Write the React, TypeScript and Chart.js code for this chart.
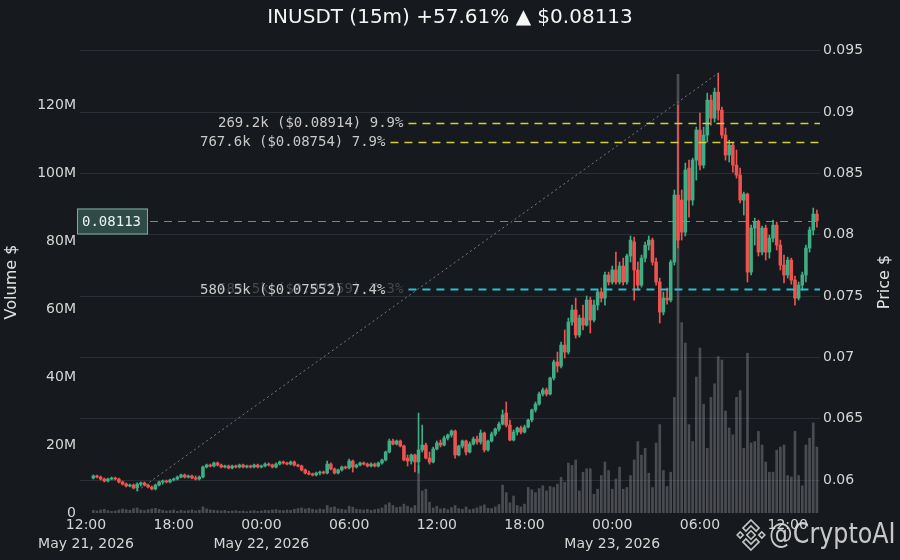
import React, { useEffect, useRef } from 'react';
import { Chart, registerables } from 'chart.js';

Chart.register(...registerables);

// ---- data (15m candles, slot 0 = May 21 2026 12:00) ----
const firstSlot = 2;
const opens = [
  0.06016,0.06033,0.06024,0.06008,0.05992,0.06008,0.06016,0.06008,0.05984,0.05967,
  0.05951,0.05959,0.05935,0.05967,0.05976,0.05959,0.05943,0.05927,0.05959,0.05984,
  0.05992,0.05984,0.06000,0.06008,0.06024,0.06041,0.06024,0.06033,0.06016,0.06008,
  0.06024,0.06106,0.06122,0.06114,0.06139,0.06122,0.06106,0.06114,0.06098,0.06114,
  0.06106,0.06122,0.06106,0.06114,0.06106,0.06122,0.06106,0.06114,0.06130,0.06122,
  0.06106,0.06130,0.06147,0.06139,0.06130,0.06147,0.06122,0.06114,0.06082,0.06057,
  0.06049,0.06041,0.06057,0.06065,0.06057,0.06130,0.06090,0.06057,0.06082,0.06106,
  0.06098,0.06155,0.06106,0.06122,0.06139,0.06130,0.06114,0.06130,0.06114,0.06139,
  0.06163,0.06228,0.06318,0.06293,0.06318,0.06277,0.06179,0.06155,0.06204,0.06147,
  0.06245,0.06285,0.06179,0.06147,0.06253,0.06302,0.06285,0.06342,0.06367,0.06399,
  0.06204,0.06277,0.06318,0.06228,0.06293,0.06334,0.06310,0.06383,0.06245,0.06318,
  0.06375,0.06416,0.06456,0.06546,0.06448,0.06326,0.06391,0.06424,0.06391,0.06432,
  0.06489,0.06571,0.06619,0.06701,0.06734,0.06701,0.06831,0.06962,0.06929,0.07100,
  0.07043,0.07288,0.07386,0.07182,0.07320,0.07263,0.07467,0.07304,0.07426,0.07532,
  0.07483,0.07671,0.07614,0.07712,0.07614,0.07744,0.07614,0.07826,0.07940,0.07712,
  0.07589,0.07809,0.07915,0.07956,0.07777,0.07614,0.07369,0.07483,0.07467,0.07777,
  0.08323,0.08282,0.08021,0.08543,0.08282,0.08608,0.08853,0.08567,0.08812,0.09097,
  0.08950,0.09162,0.09016,0.08812,0.08649,0.08730,0.08567,0.08486,0.08282,0.08331,
  0.07695,0.08054,0.08103,0.07858,0.08054,0.07858,0.07972,0.08078,0.07915,0.07752,
  0.07671,0.07793,0.07630,0.07483,0.07589,0.07671,0.07891,0.08038,0.08168,
];
const highs = [
  0.06041,0.06041,0.06033,0.06016,0.06016,0.06024,0.06024,0.06016,0.05992,0.05976,
  0.05967,0.05967,0.05976,0.05984,0.05984,0.05967,0.05951,0.05967,0.05992,0.06000,
  0.06000,0.06008,0.06016,0.06033,0.06049,0.06049,0.06041,0.06041,0.06033,0.06033,
  0.06114,0.06130,0.06130,0.06147,0.06147,0.06130,0.06122,0.06122,0.06122,0.06122,
  0.06130,0.06130,0.06122,0.06122,0.06130,0.06130,0.06122,0.06139,0.06139,0.06130,
  0.06139,0.06155,0.06155,0.06147,0.06155,0.06155,0.06130,0.06122,0.06090,0.06073,
  0.06057,0.06065,0.06073,0.06073,0.06155,0.06139,0.06098,0.06090,0.06114,0.06114,
  0.06171,0.06163,0.06130,0.06147,0.06147,0.06139,0.06139,0.06139,0.06147,0.06171,
  0.06236,0.06334,0.06334,0.06326,0.06326,0.06285,0.06204,0.06212,0.06212,0.06546,
  0.06448,0.06302,0.06228,0.06269,0.06318,0.06326,0.06359,0.06375,0.06408,0.06408,
  0.06285,0.06326,0.06326,0.06310,0.06350,0.06359,0.06408,0.06391,0.06326,0.06391,
  0.06424,0.06473,0.06571,0.06636,0.06489,0.06408,0.06432,0.06440,0.06448,0.06497,
  0.06579,0.06636,0.06717,0.06750,0.06750,0.06839,0.06978,0.07043,0.07125,0.07223,
  0.07320,0.07426,0.07483,0.07345,0.07426,0.07500,0.07491,0.07467,0.07549,0.07565,
  0.07695,0.07695,0.07744,0.07858,0.07777,0.07809,0.07842,0.07989,0.07980,0.07777,
  0.07834,0.07940,0.07989,0.07972,0.07809,0.07646,0.07532,0.07565,0.07793,0.08364,
  0.09056,0.08364,0.08584,0.08608,0.08624,0.08877,0.08991,0.08877,0.09154,0.09138,
  0.09195,0.09317,0.09040,0.08869,0.08771,0.08755,0.08690,0.08543,0.08347,0.08339,
  0.08078,0.08135,0.08119,0.08070,0.08078,0.07997,0.08119,0.08103,0.07956,0.07834,
  0.07817,0.07809,0.07663,0.07614,0.07695,0.07915,0.08062,0.08217,0.08201,
];
const lows = [
  0.06008,0.06016,0.06000,0.05984,0.05984,0.06000,0.06000,0.05976,0.05959,0.05943,
  0.05943,0.05927,0.05910,0.05951,0.05951,0.05935,0.05919,0.05919,0.05951,0.05967,
  0.05976,0.05976,0.05992,0.06000,0.06016,0.06016,0.06016,0.06008,0.06000,0.06000,
  0.06016,0.06098,0.06106,0.06106,0.06114,0.06098,0.06098,0.06090,0.06090,0.06098,
  0.06098,0.06098,0.06098,0.06098,0.06098,0.06098,0.06098,0.06106,0.06114,0.06098,
  0.06098,0.06122,0.06130,0.06122,0.06122,0.06114,0.06106,0.06073,0.06049,0.06041,
  0.06033,0.06033,0.06041,0.06049,0.06049,0.06082,0.06049,0.06049,0.06073,0.06090,
  0.06090,0.06065,0.06098,0.06114,0.06122,0.06106,0.06106,0.06106,0.06106,0.06130,
  0.06155,0.06220,0.06285,0.06285,0.06269,0.06155,0.06114,0.06130,0.06065,0.06057,
  0.06228,0.06171,0.06130,0.06139,0.06245,0.06269,0.06277,0.06326,0.06350,0.06179,
  0.06196,0.06261,0.06204,0.06220,0.06285,0.06293,0.06293,0.06228,0.06236,0.06310,
  0.06359,0.06399,0.06448,0.06432,0.06318,0.06318,0.06367,0.06375,0.06383,0.06424,
  0.06473,0.06554,0.06611,0.06685,0.06685,0.06693,0.06815,0.06880,0.06913,0.06994,
  0.07027,0.07263,0.07157,0.07165,0.07223,0.07255,0.07198,0.07288,0.07386,0.07451,
  0.07426,0.07589,0.07597,0.07597,0.07597,0.07589,0.07597,0.07777,0.07467,0.07549,
  0.07573,0.07777,0.07875,0.07752,0.07589,0.07280,0.07345,0.07434,0.07451,0.07752,
  0.07891,0.07956,0.07989,0.08143,0.08241,0.08445,0.08527,0.08543,0.08755,0.08893,
  0.08918,0.08934,0.08787,0.08608,0.08592,0.08510,0.08461,0.08258,0.08160,0.07614,
  0.07671,0.07915,0.07826,0.07834,0.07793,0.07809,0.07940,0.07875,0.07712,0.07606,
  0.07646,0.07597,0.07426,0.07467,0.07549,0.07614,0.07858,0.07997,0.08062,
];
const closes = [
  0.06033,0.06024,0.06008,0.05992,0.06008,0.06016,0.06008,0.05984,0.05967,0.05951,
  0.05959,0.05935,0.05967,0.05976,0.05959,0.05943,0.05927,0.05959,0.05984,0.05992,
  0.05984,0.06000,0.06008,0.06024,0.06041,0.06024,0.06033,0.06016,0.06008,0.06024,
  0.06106,0.06122,0.06114,0.06139,0.06122,0.06106,0.06114,0.06098,0.06114,0.06106,
  0.06122,0.06106,0.06114,0.06106,0.06122,0.06106,0.06114,0.06130,0.06122,0.06106,
  0.06130,0.06147,0.06139,0.06130,0.06147,0.06122,0.06114,0.06082,0.06057,0.06049,
  0.06041,0.06057,0.06065,0.06057,0.06130,0.06090,0.06057,0.06082,0.06106,0.06098,
  0.06155,0.06106,0.06122,0.06139,0.06130,0.06114,0.06130,0.06114,0.06139,0.06163,
  0.06228,0.06318,0.06293,0.06318,0.06277,0.06163,0.06155,0.06204,0.06147,0.06245,
  0.06285,0.06179,0.06147,0.06253,0.06302,0.06285,0.06342,0.06367,0.06399,0.06204,
  0.06277,0.06318,0.06228,0.06293,0.06334,0.06310,0.06383,0.06245,0.06318,0.06375,
  0.06416,0.06456,0.06530,0.06448,0.06326,0.06391,0.06424,0.06391,0.06432,0.06489,
  0.06571,0.06619,0.06701,0.06734,0.06701,0.06831,0.06962,0.06929,0.07100,0.07043,
  0.07288,0.07386,0.07182,0.07320,0.07263,0.07467,0.07304,0.07426,0.07532,0.07483,
  0.07671,0.07614,0.07712,0.07614,0.07744,0.07614,0.07826,0.07956,0.07712,0.07589,
  0.07809,0.07915,0.07956,0.07777,0.07614,0.07369,0.07483,0.07467,0.07777,0.08323,
  0.07956,0.08021,0.08527,0.08282,0.08608,0.08853,0.08567,0.08812,0.09097,0.08950,
  0.09162,0.09016,0.08812,0.08649,0.08730,0.08567,0.08486,0.08282,0.08331,0.07695,
  0.08054,0.08103,0.07858,0.08054,0.07858,0.07972,0.08078,0.07915,0.07752,0.07671,
  0.07793,0.07630,0.07483,0.07589,0.07671,0.07891,0.08038,0.08168,0.08113,
];
// volume in millions of $
const volumes = [
  0.8,0.6,0.9,1.1,0.7,0.5,0.6,0.9,1.2,1.0,
  0.8,1.3,1.5,0.9,0.7,1.0,1.2,1.4,1.1,0.8,
  0.6,0.7,0.9,0.5,0.8,0.6,0.7,0.9,0.6,0.8,
  1.8,1.2,0.9,0.8,0.7,0.6,0.8,0.5,0.6,0.7,
  0.5,0.6,0.4,0.6,0.7,0.5,0.6,0.8,0.7,0.9,
  1.0,0.8,0.7,0.9,0.8,1.1,1.3,1.5,1.2,1.4,
  1.1,0.9,1.2,1.0,2.2,1.6,1.8,1.2,1.1,0.9,
  2.0,1.7,1.1,1.0,0.9,1.1,0.8,1.0,1.2,1.5,
  2.4,3.0,2.2,1.6,1.8,2.6,2.0,1.5,2.2,14,
  6.5,7,3.2,1.5,2.0,1.2,1.4,1.0,1.6,2.2,
  1.3,1.1,1.8,1.0,1.2,1.5,2.0,2.4,1.4,1.3,
  1.8,2.5,8.2,6.0,3.0,5.0,2.2,1.8,2.6,7.5,
  6.8,6.0,7.2,8.0,6.5,7.8,7.5,8.5,10.5,9,
  14.7,14,15.6,6.5,12,13,13,5.5,7,11,
  15,12.5,7,10,13.5,7,7.5,11,15.6,21,
  17,19,11.7,7.5,20.6,26,12.5,7.8,12,34,
  129,56,50,26,21,40,48.5,32,19,34,
  38,46,45,30,25,23,34,36,19,47,
  20.6,21,24,20,15,12,12,18.5,19.4,20,
  11,10.6,24,11,8,20,22,26.5,19.4,
];

const xTickSlots = [0, 24, 48, 72, 96, 120, 144, 168, 192];
const xTickLabels: (string | string[])[] = [
  ['12:00', 'May 21, 2026'], '18:00', ['00:00', 'May 22, 2026'], '06:00', '12:00',
  '18:00', ['00:00', 'May 23, 2026'], '06:00', '12:00',
];
const priceTicks = [0.06, 0.065, 0.07, 0.075, 0.08, 0.085, 0.09, 0.095];
const volumeTicks = [0, 20, 40, 60, 80, 100, 120];

const levelPrices = [0.08914, 0.08754, 0.07559, 0.07552];
const levelLabels = [
  '269.2k ($0.08914) 9.9%',
  '767.6k ($0.08754) 7.9%',
  '583.5k ($0.07559) 7.3%',
  '580.5k ($0.07552) 7.4%',
];
const currentPrice = 0.08113;
const titleText = 'INUSDT (15m) +57.61% ▲ $0.08113';

// ---- styles ----
const BG = '#16191d';
const GRID = '#2a2e35';
const TICK = '#d6d6d6';
const GREEN = '#3fae85';
const RED = '#ef5350';
const FONT = 'DejaVu Sans';
const MONO = 'DejaVu Sans Mono';

const overlay = {
  id: 'overlay',
  beforeDraw(chart: any) {
    const { ctx, width, height } = chart;
    ctx.save();
    ctx.fillStyle = BG;
    ctx.fillRect(0, 0, width, height);
    ctx.restore();
  },
  afterDatasetsDraw(chart: any) {
    const { ctx, chartArea } = chart;
    const xs = chart.scales.x;
    const ys = chart.scales.y;

    // dotted trend from lowest low to highest high
    let iMin = 0, iMax = 0;
    lows.forEach((v, i) => { if (v < lows[iMin]) iMin = i; });
    highs.forEach((v, i) => { if (v > highs[iMax]) iMax = i; });
    ctx.save();
    ctx.strokeStyle = 'rgba(150,152,156,0.75)';
    ctx.lineWidth = 1;
    ctx.setLineDash([2, 3]);
    ctx.beginPath();
    ctx.moveTo(xs.getPixelForValue(firstSlot + iMin), ys.getPixelForValue(lows[iMin]));
    ctx.lineTo(xs.getPixelForValue(firstSlot + iMax), ys.getPixelForValue(highs[iMax]));
    ctx.stroke();
    ctx.restore();

    // current price line + box
    const cy = Math.round(ys.getPixelForValue(currentPrice)) + 0.5;
    ctx.save();
    ctx.strokeStyle = 'rgba(140,143,148,0.9)';
    ctx.lineWidth = 1;
    ctx.setLineDash([8, 6]);
    ctx.beginPath();
    ctx.moveTo(150, cy);
    ctx.lineTo(chartArea.right, cy);
    ctx.stroke();
    ctx.setLineDash([]);
    ctx.fillStyle = '#2e4b47';
    ctx.fillRect(77, cy - 13, 71, 26);
    ctx.strokeStyle = '#86a5a0';
    ctx.strokeRect(77.5, cy - 12.5, 70, 25);
    ctx.fillStyle = '#eef2f1';
    ctx.font = `14px "${MONO}"`;
    ctx.textBaseline = 'middle';
    ctx.textAlign = 'left';
    ctx.fillText(currentPrice.toFixed(5), 82, cy + 1);
    ctx.restore();

    // level lines with labels
    const labelX = [218, 200, 218, 200];
    const colors = ['#d2cf3c', '#d2cf3c', '#22c3d6', '#22c3d6'];
    const textColors = ['#c9c9c9', '#c9c9c9', '#45484d', '#c9c9c9'];
    ctx.save();
    ctx.font = `14px "${MONO}"`;
    ctx.textBaseline = 'middle';
    ctx.textAlign = 'left';
    levelPrices.forEach((p, i) => {
      const y = Math.round(ys.getPixelForValue(p)) + 0.5;
      const w = ctx.measureText(levelLabels[i]).width;
      if (i !== 3) {
        ctx.strokeStyle = colors[i];
        ctx.lineWidth = i >= 2 ? 2 : 1.5;
        ctx.setLineDash([8, 6]);
        ctx.beginPath();
        ctx.moveTo(labelX[i] + w + 5, y);
        ctx.lineTo(chartArea.right, y);
        ctx.stroke();
      }
      ctx.setLineDash([]);
      ctx.fillStyle = textColors[i];
      ctx.fillText(levelLabels[i], labelX[i], y);
    });
    ctx.restore();
  },
  afterDraw(chart: any) {
    const { ctx } = chart;
    ctx.save();
    // title
    ctx.fillStyle = '#f5f5f5';
    ctx.font = `20px "${FONT}"`;
    ctx.textAlign = 'center';
    ctx.textBaseline = 'middle';
    ctx.fillText(titleText, 450, 18);
    // axis titles
    ctx.font = `16px "${FONT}"`;
    ctx.fillStyle = '#e2e2e2';
    ctx.save();
    ctx.translate(12, 282);
    ctx.rotate(-Math.PI / 2);
    ctx.fillText('Volume $', 0, 0);
    ctx.restore();
    ctx.save();
    ctx.translate(885, 282);
    ctx.rotate(-Math.PI / 2);
    ctx.fillText('Price $', 0, 0);
    ctx.restore();
    // watermark
    const cx = 751, cyy = 535, s = 30;
    const pts = (arr: number[][]) => {
      ctx.beginPath();
      arr.forEach(([a, b], k) => (k ? ctx.lineTo(cx + a * s, cyy + b * s) : ctx.moveTo(cx + a * s, cyy + b * s)));
      ctx.closePath();
      ctx.stroke();
    };
    ctx.strokeStyle = 'rgba(215,215,215,0.9)';
    ctx.lineWidth = 1.6;
    pts([[0, -0.14], [0.14, 0], [0, 0.14], [-0.14, 0]]);
    pts([[-0.36, -0.1], [-0.26, 0], [-0.36, 0.1], [-0.46, 0]]);
    pts([[0.36, -0.1], [0.46, 0], [0.36, 0.1], [0.26, 0]]);
    pts([[0, -0.5], [0.27, -0.23], [0.17, -0.13], [0, -0.3], [-0.17, -0.13], [-0.27, -0.23]]);
    pts([[0, 0.5], [0.27, 0.23], [0.17, 0.13], [0, 0.3], [-0.17, 0.13], [-0.27, 0.23]]);
    ctx.fillStyle = 'rgba(220,220,220,0.9)';
    ctx.textAlign = 'left';
    ctx.textBaseline = 'alphabetic';
    ctx.save();
    ctx.translate(769, 543);
    ctx.scale(0.85, 1);
    ctx.font = `28px "${FONT}"`;
    ctx.fillText('@CryptoAI', 0, 0);
    ctx.restore();
    ctx.restore();
  },
};

export default function App() {
  const ref = useRef<HTMLCanvasElement | null>(null);

  useEffect(() => {
    document.body.style.margin = '0';
    document.body.style.background = BG;
    const canvas = ref.current!;
    const slots = opens.map((_, i) => firstSlot + i);
    const colors = opens.map((o, i) => (closes[i] >= o ? GREEN : RED));
    const tickFont = { size: 14, family: FONT };

    const chart = new Chart(canvas, {
      type: 'bar',
      data: {
        datasets: [
          {
            label: 'body',
            data: slots.map((s, i) => ({ x: s, y: [Math.min(opens[i], closes[i]), Math.max(opens[i], closes[i])] })),
            backgroundColor: colors,
            barThickness: 2.9,
            minBarLength: 1,
            grouped: false,
            yAxisID: 'y',
            order: 0,
          },
          {
            label: 'wick',
            data: slots.map((s, i) => ({ x: s, y: [lows[i], highs[i]] })),
            backgroundColor: colors,
            barThickness: 1,
            grouped: false,
            yAxisID: 'y',
            order: 1,
          },
          {
            label: 'volume',
            data: slots.map((s, i) => ({ x: s, y: volumes[i] })),
            backgroundColor: 'rgba(125,128,134,0.5)',
            barThickness: 2,
            grouped: false,
            yAxisID: 'yv',
            order: 2,
          },
        ],
      } as any,
      options: {
        responsive: false,
        animation: false,
        devicePixelRatio: 1,
        events: [],
        layout: { padding: { top: 40, left: 0, right: 0, bottom: 0 } },
        plugins: { legend: { display: false }, tooltip: { enabled: false }, title: { display: false } },
        scales: {
          x: {
            type: 'linear',
            min: -1.64,
            max: 200.85,
            offset: false,
            grid: { display: false, drawTicks: false },
            border: { display: false },
            afterBuildTicks: (s: any) => { s.ticks = xTickSlots.map((v) => ({ value: v })); },
            afterFit: (s: any) => { s.height = 47; },
            ticks: {
              autoSkip: false,
              maxRotation: 0,
              minRotation: 0,
              padding: 3,
              color: TICK,
              font: { ...tickFont, lineHeight: 1.36 },
              callback: (v: any) => {
                const k = xTickSlots.indexOf(Number(v));
                return k >= 0 ? xTickLabels[k] : '';
              },
            },
          },
          y: {
            position: 'right',
            min: 0.05731,
            max: 0.09587,
            grid: { color: GRID, drawTicks: false, lineWidth: 1 },
            border: { display: false },
            afterBuildTicks: (s: any) => { s.ticks = priceTicks.map((v) => ({ value: v })); },
            afterFit: (s: any) => { s.width = 80; },
            ticks: {
              padding: 3,
              color: TICK,
              font: tickFont,
              callback: (v: any) => String(Number(Number(v).toFixed(3))),
            },
          },
          yv: {
            position: 'left',
            min: 0,
            max: 139.1,
            grid: { display: false, drawTicks: false },
            border: { display: false },
            afterBuildTicks: (s: any) => { s.ticks = volumeTicks.map((v) => ({ value: v })); },
            afterFit: (s: any) => { s.width = 80; },
            ticks: {
              padding: 4,
              color: TICK,
              font: tickFont,
              callback: (v: any) => (Number(v) === 0 ? '0' : `${v}M`),
            },
          },
        },
      } as any,
      plugins: [overlay],
    });
    return () => chart.destroy();
  }, []);

  return <canvas ref={ref} width={900} height={560} style={{ display: 'block', width: 900, height: 560 }} />;
}
